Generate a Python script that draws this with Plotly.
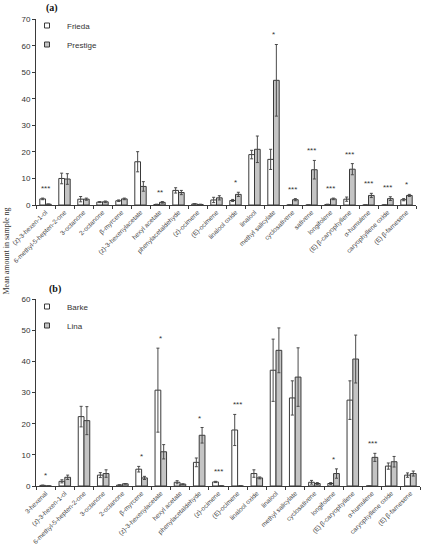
import plotly.graph_objects as go

# ---------------- data ----------------
cats_a = ["(z)-3-hexen-1-ol", "6-methyl-5-hepten-2-one", "3-octanone", "2-octanone",
          "β-myrcene", "(z)-3-hexenylacetate", "hexyl acetate", "phenylacetaldehyde",
          "(z)-ocimene", "(E)-ocimene", "linalool oxide", "linalool", "methyl salicylate",
          "cyclosativene", "sativene", "longifolene", "(E) β-caryophyllene", "α-humulene",
          "caryophyllene oxide", "(E) β-farnesene"]
frieda = [2.3, 10.0, 2.2, 1.1, 1.6, 16.3, 0.2, 5.5, 0.4, 1.9, 1.7, 19.0, 17.2, 0.0, 0.0, 0.2, 2.2, 0.0, 0.0, 2.0]
frieda_err = [0.3, 2.0, 1.0, 0.2, 0.3, 3.8, 0.1, 1.0, 0.1, 1.0, 0.4, 1.6, 3.8, 0, 0, 0.1, 0.8, 0, 0, 0.4]
prestige = [0.3, 9.8, 2.2, 1.2, 2.3, 7.0, 1.0, 4.7, 0.2, 2.7, 4.0, 21.0, 47.0, 2.0, 13.3, 2.3, 13.5, 3.6, 2.4, 3.6]
prestige_err = [0.1, 2.0, 0.4, 0.3, 0.3, 1.8, 0.3, 0.8, 0.1, 0.8, 0.8, 5.0, 13.5, 0.4, 3.5, 0.3, 2.1, 0.8, 0.7, 0.4]
stars_a = ["***", "", "", "", "", "", "**", "", "", "", "*", "", "*", "***", "***", "***", "***", "***", "***", "*"]

cats_b = ["3-hexenal", "(z)-3-hexen-1-ol", "6-methyl-5-hepten-2-one", "3-octanone", "2-octanone",
          "β-myrcene", "(z)-3-hexenylacetate", "hexyl acetate", "phenylacetaldehyde", "(z)-ocimene",
          "(E)-ocimene", "linalool oxide", "linalool", "methyl salicylate", "cyclosativene",
          "longifolene", "(E) β-caryophyllene", "α-humulene", "caryophyllene oxide", "(E) β-farnesene"]
barke = [0.2, 1.5, 22.3, 3.5, 0.3, 5.4, 30.8, 1.2, 7.6, 1.3, 18.0, 4.0, 37.2, 28.3, 1.2, 0.8, 27.6, 0.0, 6.4, 3.5]
barke_err = [0.1, 0.5, 3.3, 0.8, 0.1, 0.9, 13.5, 0.5, 1.4, 0.2, 5.0, 1.2, 10.0, 5.5, 0.6, 0.3, 6.2, 0, 1.0, 0.7]
lina = [0.0, 2.8, 21.0, 4.0, 0.7, 2.6, 11.0, 0.6, 16.3, 0.0, 0.0, 2.6, 43.6, 35.0, 0.8, 4.0, 40.8, 9.2, 7.8, 4.0]
lina_err = [0, 0.7, 4.5, 1.2, 0.1, 0.5, 2.3, 0.1, 2.5, 0, 0, 0.3, 7.2, 9.4, 0.3, 1.5, 7.7, 1.3, 1.7, 0.8]
stars_b = ["*", "", "", "", "", "*", "*", "", "*", "***", "***", "", "", "", "", "*", "", "***", "", ""]

yticks_a = [0, 10, 20, 30, 40, 50, 60, 70]
yticks_b = [0, 10, 20, 30, 40, 50, 60]

# ---------------- styles ----------------
W, H = 425, 546
EDGE = "#3a3a3a"
GREY = "#c4c4c4"
ERRC = "#4a4a4a"
TXT = "#333333"
SANS = "Liberation Sans, Arial, sans-serif"
SERIF = "Liberation Serif, Times New Roman, serif"

fig = go.Figure()

def add_pair(cats, v1, e1, v2, e2, xa, ya):
    for vals, errs, fill in ((v1, e1, "white"), (v2, e2, GREY)):
        fig.add_trace(go.Bar(
            x=cats, y=vals, xaxis=xa, yaxis=ya, showlegend=False,
            marker=dict(color=fill, line=dict(color=EDGE, width=1)),
            error_y=dict(type="data", array=errs, visible=True, color=ERRC,
                         thickness=1, width=1.5),
        ))

add_pair(cats_a, frieda, frieda_err, prestige, prestige_err, "x", "y")
add_pair(cats_b, barke, barke_err, lina, lina_err, "x2", "y2")

# legend entries (small squares)
for name, fill, xa, ya, lg in (("Frieda", "white", "x", "y", "legend"),
                               ("Prestige", GREY, "x", "y", "legend"),
                               ("Barke", "white", "x2", "y2", "legend2"),
                               ("Lina", GREY, "x2", "y2", "legend2")):
    fig.add_trace(go.Scatter(
        x=[None], y=[None], xaxis=xa, yaxis=ya, name=name, mode="markers", legend=lg,
        marker=dict(symbol="square", size=5, color=fill, line=dict(color=EDGE, width=1)),
    ))

annotations = []
def add_stars(cats, v1, e1, v2, e2, stars, xa, ya):
    for c, a, ea, b, eb, s in zip(cats, v1, e1, v2, e2, stars):
        if s:
            annotations.append(dict(
                x=c, y=max(a + ea, b + eb), xref=xa, yref=ya, text=s, showarrow=False,
                yanchor="bottom", yshift=3, font=dict(family=SANS, size=8, color=TXT)))

add_stars(cats_a, frieda, frieda_err, prestige, prestige_err, stars_a, "x", "y")
add_stars(cats_b, barke, barke_err, lina, lina_err, stars_b, "x2", "y2")

annotations += [
    dict(text="<b>(a)</b>", x=44 / W, y=1 - 0 / H, xref="paper", yref="paper",
         xanchor="left", yanchor="top", showarrow=False,
         font=dict(family=SERIF, size=10, color="#111")),
    dict(text="<b>(b)</b>", x=47 / W, y=1 - 281 / H, xref="paper", yref="paper",
         xanchor="left", yanchor="top", showarrow=False,
         font=dict(family=SERIF, size=10, color="#111")),
    dict(text="Mean amount in sample ng", x=0, y=1 - 251 / H, xref="paper", yref="paper",
         xanchor="left", yanchor="middle", textangle=-90, showarrow=False,
         font=dict(family=SERIF, size=8, color=TXT)),
]

xcommon = dict(type="category", showline=True, linecolor=EDGE, linewidth=1,
               ticks="outside", ticklen=3, tickcolor=EDGE, tickson="boundaries",
               tickangle=-45, showgrid=False, zeroline=False, automargin=False,
               tickfont=dict(family=SANS, size=6.5, color="#444"))
ycommon = dict(showline=True, linecolor=EDGE, linewidth=1, ticks="outside", ticklen=3,
               tickcolor=EDGE, showgrid=False, zeroline=False, automargin=False,
               tickfont=dict(family=SANS, size=8, color=TXT))

legend_style = dict(xanchor="left", yanchor="top", bgcolor="rgba(0,0,0,0)",
                    font=dict(family=SANS, size=8, color=TXT), itemwidth=30,
                    tracegroupgap=0)

fig.update_layout(
    width=W, height=H, margin=dict(l=0, r=0, t=0, b=0, autoexpand=False),
    paper_bgcolor="white", plot_bgcolor="white",
    barmode="group", bargap=0.4, bargroupgap=0.0,
    xaxis=dict(domain=[36 / W, 416 / W], anchor="y", **xcommon),
    yaxis=dict(domain=[1 - 205 / H, 1 - 19.3 / H], anchor="x", range=[0, 70],
               tickvals=yticks_a, **ycommon),
    xaxis2=dict(domain=[36 / W, 420 / W], anchor="y2", **xcommon),
    yaxis2=dict(domain=[1 - 486 / H, 1 - 299.3 / H], anchor="x2", range=[0, 60],
                tickvals=yticks_b, **ycommon),
    legend=dict(x=27 / W, y=1 - 11 / H, **legend_style),
    legend2=dict(x=27 / W, y=1 - 292 / H, **legend_style),
    annotations=annotations,
    showlegend=True,
)

fig.write_html("out.html")
